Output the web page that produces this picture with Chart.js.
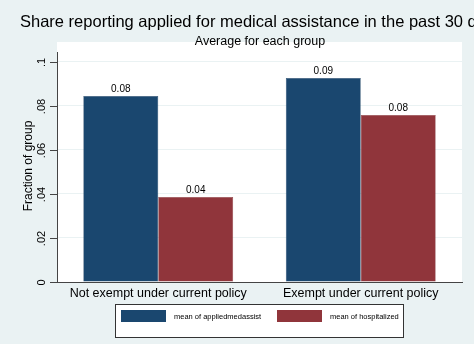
<!DOCTYPE html>
<html><head><meta charset="utf-8">
<script src="https://cdn.jsdelivr.net/npm/chart.js@4"></script>
<style>html,body{margin:0;padding:0;background:#eaf2f3}#c{display:block}</style>
</head><body>
<canvas id="c" width="474" height="344"></canvas>
<script>
const categories = ["Not exempt under current policy", "Exempt under current policy"];
const seriesNames = ["mean of appliedmedassist", "mean of hospitalized"];
const appliedMedAssist = [0.0845, 0.0927];
const hospitalized = [0.0386, 0.0759];
const valueLabels1 = ["0.08", "0.09"];
const valueLabels2 = ["0.04", "0.08"];
const yTicks = [0, 0.02, 0.04, 0.06, 0.08, 0.1];
const yTickLabels = ["0", ".02", ".04", ".06", ".08", ".1"];
const titleText = "Share reporting applied for medical assistance in the past 30 days";
const subtitleText = "Average for each group";
const yTitle = "Fraction of group";

const FONT = "'Liberation Sans', Arial, sans-serif";
const BLUE = "#1a476f", RED = "#90353b";

const deco = {
  id: 'deco',
  beforeDraw(chart) {
    const ctx = chart.ctx, a = chart.chartArea;
    ctx.save();
    ctx.fillStyle = '#eaf2f3';
    ctx.fillRect(0, 0, chart.width, chart.height);
    ctx.fillStyle = '#ffffff';
    ctx.fillRect(a.left, a.top - 10, a.right - a.left, a.bottom - a.top + 10);
    ctx.restore();
  },
  afterDraw(chart) {
    const ctx = chart.ctx, a = chart.chartArea;
    const ys = chart.scales.y, xs = chart.scales.x;
    ctx.save();
    // titles
    ctx.fillStyle = '#000';
    ctx.textBaseline = 'alphabetic';
    ctx.textAlign = 'left';
    ctx.font = "16.5px " + FONT;
    ctx.fillText(titleText, 20, 27);
    ctx.textAlign = 'center';
    ctx.font = "12.5px " + FONT;
    ctx.fillText(subtitleText, 260, 45);
    // y axis tick marks and rotated labels
    ctx.strokeStyle = '#444';
    ctx.lineWidth = 1;
    ctx.font = "11px " + FONT;
    ctx.fillStyle = '#000';
    yTicks.forEach((v, i) => {
      const y = Math.round(ys.getPixelForValue(v)) + 0.5;
      ctx.beginPath(); ctx.moveTo(a.left - 7, y); ctx.lineTo(a.left, y); ctx.stroke();
      ctx.save();
      ctx.translate(a.left - 10, y);
      ctx.rotate(-Math.PI / 2);
      ctx.textAlign = 'center';
      ctx.textBaseline = 'bottom';
      ctx.fillText(yTickLabels[i], 0, 0);
      ctx.restore();
    });
    // y title
    ctx.save();
    ctx.translate(35, 166);
    ctx.rotate(-Math.PI / 2);
    ctx.textAlign = 'center';
    ctx.textBaseline = 'bottom';
    ctx.font = "12px " + FONT;
    ctx.fillText(yTitle, 0, 0);
    ctx.restore();
    // x labels
    ctx.font = "12.5px " + FONT;
    ctx.textAlign = 'center';
    ctx.textBaseline = 'alphabetic';
    categories.forEach((c, i) => {
      ctx.fillText(c, xs.getPixelForValue(i), 297);
    });
    // value labels
    ctx.font = "10px " + FONT;
    const lbls = [valueLabels1, valueLabels2];
    chart.data.datasets.forEach((ds, di) => {
      chart.getDatasetMeta(di).data.forEach((bar, i) => {
        ctx.fillText(lbls[di][i], bar.x, bar.y - 4);
      });
    });
    // legend
    ctx.fillStyle = '#fff';
    ctx.fillRect(115, 304, 288, 33);
    ctx.strokeStyle = '#333';
    ctx.strokeRect(115.5, 304.5, 288, 33);
    const sw = [[121, BLUE], [277, RED]];
    ctx.font = "7.5px " + FONT;
    ctx.textAlign = 'left';
    ctx.textBaseline = 'middle';
    sw.forEach((s, i) => {
      ctx.fillStyle = s[1];
      ctx.fillRect(s[0], 310, 45, 12);
      ctx.fillStyle = '#000';
      ctx.fillText(seriesNames[i], s[0] + 53, 316.5);
    });
    ctx.restore();
  }
};

new Chart(document.getElementById('c'), {
  type: 'bar',
  data: {
    labels: categories,
    datasets: [
      { label: seriesNames[0], data: appliedMedAssist, backgroundColor: BLUE, borderColor: '#16395a', borderWidth: 0.5 },
      { label: seriesNames[1], data: hospitalized, backgroundColor: RED, borderColor: '#7a2c31', borderWidth: 0.5 }
    ]
  },
  options: {
    responsive: false,
    animation: false,
    devicePixelRatio: 1,
    layout: { padding: { left: 57, top: 52, right: 12, bottom: 62 } },
    plugins: { legend: { display: false }, tooltip: { enabled: false }, title: { display: false } },
    datasets: { bar: { categoryPercentage: 0.74, barPercentage: 1.0 } },
    scales: {
      x: {
        ticks: { display: false },
        grid: { display: false, drawTicks: false },
        border: { display: true, color: '#444', width: 1 }
      },
      y: {
        min: 0, max: 0.1045,
        afterBuildTicks(scale) { scale.ticks = yTicks.map(v => ({ value: v })); },
        ticks: { display: false },
        grid: { color: '#eaf2f3', drawTicks: false, lineWidth: 1 },
        border: { display: true, color: '#444', width: 1 }
      }
    }
  },
  plugins: [deco]
});
</script>
</body></html>
